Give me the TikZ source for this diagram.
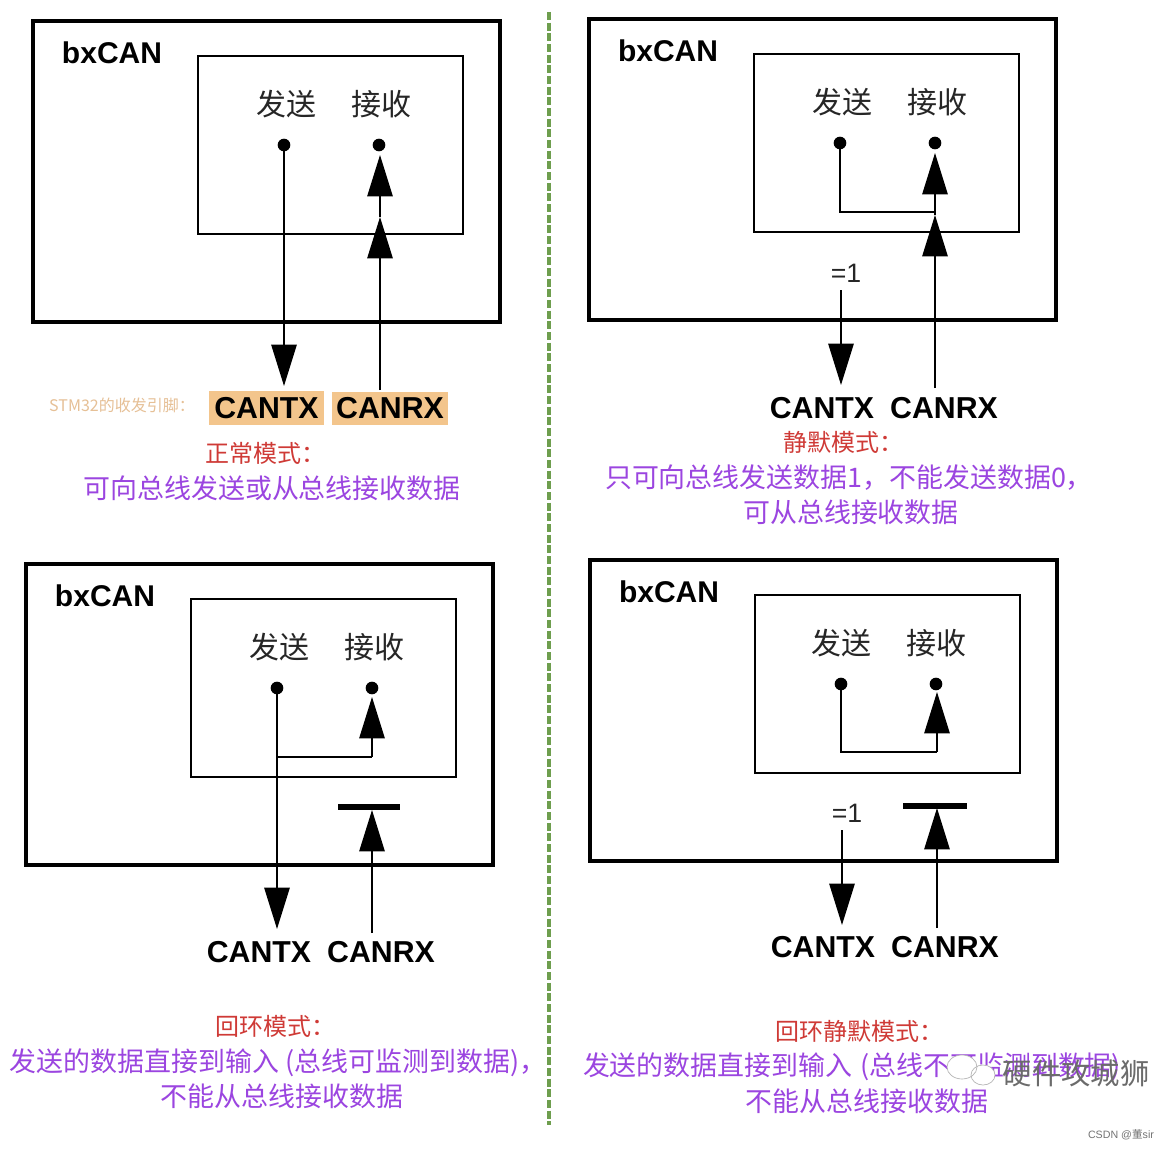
\documentclass[tikz,border=0pt]{standalone}
\usepackage{fontspec}
\setmainfont{Liberation Sans}
\newfontfamily\cjk{Noto Sans CJK SC}
\usetikzlibrary{arrows.meta}
\newcommand{\wcomma}{\char"FF0C\relax}
\newcommand{\wcolon}{\char"FF1A\relax}
\definecolor{modered}{HTML}{CF3A36}
\definecolor{modepurple}{HTML}{9B45E0}
\definecolor{pinfill}{HTML}{F3C58C}
\definecolor{pinlabel}{HTML}{E6C096}
\definecolor{divider}{HTML}{6E9E4E}
\tikzset{
  outerbox/.style={draw=black,line width=2.4pt,fill=none,outer sep=0pt},
  innerbox/.style={draw=black,line width=1.3pt,fill=none,outer sep=0pt},
  wire/.style={draw=black,line width=1.3pt},
  bigarrow/.style={wire,-{Triangle[width=19pt,length=31pt]},shorten >=0pt},
  dotmark/.style={circle,fill=black,inner sep=0pt,minimum size=9.5pt},
  blocklabel/.style={font=\bfseries\fontsize{22.5}{24}\selectfont,inner sep=0pt},
  pinname/.style={font=\bfseries\fontsize{22.7}{24}\selectfont,inner sep=0pt},
  chlabel/.style={font=\cjk\fontsize{22.5}{24}\selectfont,inner sep=0pt,text=black!85},
  eqlabel/.style={font=\fontsize{20}{22}\selectfont,inner sep=0pt,text=black!85},
  bar/.style={draw=black,line width=5pt},
  modetitle/.style={font=\cjk\fontsize{18}{20}\selectfont,text=modered,inner sep=0pt},
  modetext/.style={font=\cjk\fontsize{20.2}{22}\selectfont,text=modepurple,inner sep=0pt},
}
% common frame of a panel; origin = top-left panel coordinates
\newcommand{\panelframe}[1][0]{%
  \node[outerbox,minimum width=350.25pt,minimum height=225.75pt,inner sep=0pt,anchor=north west] (outer) at (33,21) {};
  \node[innerbox,minimum width=198.75pt,minimum height=133.5pt,inner sep=0pt,anchor=north west] (inner) at (198,56) {};
  \node[blocklabel] (name) at (112,53) {bxCAN};
  \node[chlabel] (send) at (286+#1,104.5) {发送};
  \node[chlabel] (recv) at (381+#1,104.5) {接收};
  \node[dotmark] (txdot) at (284,145) {};
  \node[dotmark] (rxdot) at (379,145) {};
}
\begin{document}
\begin{tikzpicture}[x=0.75pt,y=-0.75pt]
\path[use as bounding box,fill=white] (0,0) rectangle (1171,1149);

% divider
\coordinate (divtop) at (549,12);
\coordinate (divbot) at (549,1125);
\draw[divider,line width=2.4pt,dash pattern=on 6pt off 2pt] (divtop) -- (divbot);

% ---- normal mode
\begin{scope}[name prefix=a-]
  \panelframe
  \node[pinname,fill=pinfill,minimum width=86pt,minimum height=26pt] (tx) at (266.5,408) {CANTX};
  \node[pinname,fill=pinfill,minimum width=87pt,minimum height=25pt] (rx) at (390,408.5) {CANRX};
  \coordinate (txend) at (284,386);
  \coordinate (rxstart) at (380,390);
  \coordinate (rxin) at (380,217);
  \coordinate (rxtip) at (380,155);
  \draw[bigarrow] (txdot.center) -- (txend);
  \draw[bigarrow] (rxstart) -- (rxin);
  \draw[bigarrow] (rxin) -- (rxtip);
  \node[font=\cjk\fontsize{12}{14}\selectfont,text=pinlabel,inner sep=0pt] (pinnote) at (122,405) {STM32的收发引脚\wcolon};
  \node[modetitle] (title) at (265,453) {正常模式\wcolon};
  \node[modetext] (desc) at (272,488) {可向总线发送或从总线接收数据};
\end{scope}

% ---- silent mode
\begin{scope}[shift={(556,-2)},name prefix=b-]
  \panelframe
  \node[pinname] (tx) at (266,410) {CANTX};
  \node[pinname] (rx) at (388,410) {CANRX};
  \node[eqlabel] (eq) at (290,275) {=1};
  \coordinate (txstart) at (285,292);
  \coordinate (txend) at (285,387);
  \coordinate (rxstart) at (379,390);
  \coordinate (rxin) at (379,217);
  \coordinate (rxtip) at (379,155);
  \coordinate (loopa) at (284,214);
  \coordinate (loopb) at (379,214);
  \draw[wire] (txdot.center) -- (loopa) -- (loopb);
  \draw[bigarrow] (txstart) -- (txend);
  \draw[bigarrow] (rxstart) -- (rxin);
  \draw[bigarrow] (rxin) -- (rxtip);
  \node[modetitle] (title) at (287,444) {静默模式\wcolon};
  \node[modetext] (desc) at (293,480) {只可向总线发送数据1\wcomma 不能发送数据0\wcomma};
  \node[modetext] (desc2) at (295,514) {可从总线接收数据};
\end{scope}

% ---- loopback mode
\begin{scope}[shift={(-7,543)},name prefix=c-]
  \panelframe
  \node[pinname] (tx) at (266,409) {CANTX};
  \node[pinname] (rx) at (388,409) {CANRX};
  \coordinate (txend) at (284,386);
  \coordinate (barl) at (345,264);
  \coordinate (barr) at (407,264);
  \coordinate (rxstart) at (379,390);
  \coordinate (rxin) at (379,267);
  \coordinate (loopa) at (284,214);
  \coordinate (loopb) at (379,214);
  \coordinate (rxtip) at (379,154);
  \draw[bigarrow] (txdot.center) -- (txend);
  \draw[wire] (loopa) -- (loopb);
  \draw[bigarrow] (loopb) -- (rxtip);
  \draw[bar] (barl) -- (barr);
  \draw[bigarrow] (rxstart) -- (rxin);
  \node[modetitle] (title) at (282,483) {回环模式\wcolon};
  \node[modetext] (desc) at (285,520) {发送的数据直接到输入\hspace{5pt}(总线可监测到数据)\wcomma};
  \node[modetext] (desc2) at (289,553) {不能从总线接收数据};
\end{scope}

% ---- loopback silent mode
\begin{scope}[shift={(557,539)},name prefix=d-]
  \panelframe[-2]
  \node[pinname] (tx) at (266,408) {CANTX};
  \node[pinname] (rx) at (388,408) {CANRX};
  \node[eqlabel] (eq) at (290,274) {=1};
  \coordinate (txstart) at (285,291);
  \coordinate (txend) at (285,386);
  \coordinate (barl) at (346,267);
  \coordinate (barr) at (410,267);
  \coordinate (rxstart) at (380,389);
  \coordinate (rxin) at (380,269);
  \coordinate (loopa) at (284,213);
  \coordinate (loopb) at (380,213);
  \coordinate (rxtip) at (380,153);
  \draw[wire] (txdot.center) -- (loopa) -- (loopb);
  \draw[bigarrow] (loopb) -- (rxtip);
  \draw[bigarrow] (txstart) -- (txend);
  \draw[bar] (barl) -- (barr);
  \draw[bigarrow] (rxstart) -- (rxin);
  \node[modetitle] (title) at (302,492) {回环静默模式\wcolon};
  \node[modetext] (desc) at (295,528) {发送的数据直接到输入\hspace{6pt}(总线不可监测到数据)};
  \node[modetext] (desc2) at (310,562) {不能从总线接收数据};
\end{scope}

% watermark
\fill[white] (962,1067) ellipse (15 and 12);
\fill[white] (983,1075) ellipse (12 and 10);
\draw[black!30,line width=0.5pt] (962,1067) ellipse (15 and 12);
\draw[black!30,line width=0.5pt] (983,1075) ellipse (12 and 10);
\node[font=\cjk\fontsize{22}{24}\selectfont,text=black!58,inner sep=0pt] (mark) at (1076,1073) {硬件攻城狮};
\node[font=\fontsize{8}{10}\selectfont,inner sep=0pt,text=black!55] (csdn) at (1121,1135) {CSDN @{\cjk 董}sir};
\end{tikzpicture}
\end{document}
